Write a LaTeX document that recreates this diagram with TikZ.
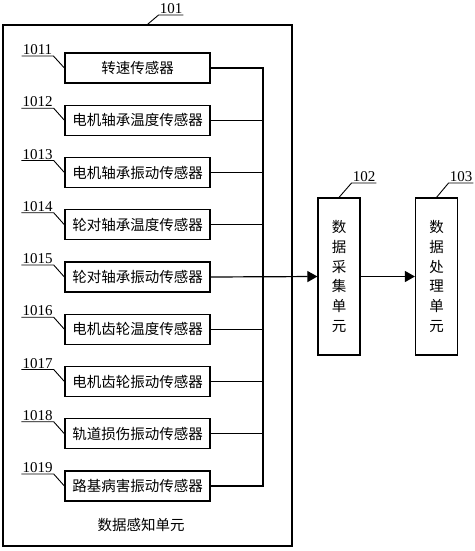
\documentclass[tikz,border=0pt]{standalone}
\usepackage{fontspec}
\setmainfont{Liberation Serif}
\newfontfamily\cjk{Noto Sans CJK SC}
\usetikzlibrary{arrows.meta}

\tikzset{
  sensor/.style={draw, line width=1.2pt, minimum width=145pt, minimum height=30pt,
    inner sep=0pt, font=\cjk\fontsize{14.5}{16}\selectfont},
  unitbox/.style={draw, line width=1.2pt, minimum width=42pt, minimum height=157pt,
    inner sep=0pt, align=center, font=\cjk\fontsize{14.5}{19.8}\selectfont},
  tag/.style={inner sep=1pt, anchor=south, font=\fontsize{15}{17}\selectfont},
  leader/.style={line width=0.9pt},
  wire/.style={line width=1.2pt},
}

\begin{document}
\begin{tikzpicture}[x=1pt,y=-1pt]
  \useasboundingbox (0,0) rectangle (474,551);
  % data sensing unit
  \node[draw, line width=1.2pt, minimum width=289pt, minimum height=521pt] (u101) at (147.5,285.5) {};
  \node[font=\cjk\fontsize{14.5}{16}\selectfont] (u101text) at (141,525) {数据感知单元};
  \draw
    (137.5,68) node[sensor] (s1){转速传感器}
    (137.5,120.25) node[sensor] (s2){电机轴承温度传感器}
    (137.5,172.5) node[sensor] (s3){电机轴承振动传感器}
    (137.5,224.75) node[sensor] (s4){轮对轴承温度传感器}
    (137.5,277) node[sensor] (s5){轮对轴承振动传感器}
    (137.5,329.25) node[sensor] (s6){电机齿轮温度传感器}
    (137.5,381.5) node[sensor] (s7){电机齿轮振动传感器}
    (137.5,433.75) node[sensor] (s8){轨道损伤振动传感器}
    (137.5,486) node[sensor] (s9){路基病害振动传感器};
  % acquisition and processing
  \node[unitbox] (u102) at (339,276.5) {数\\据\\采\\集\\单\\元};
  \node[unitbox] (u103) at (436.5,276.5) {数\\据\\处\\理\\单\\元};
  % reference numbers
  \draw
    (171,15) node[tag] (t101){101}
    (364,183) node[tag] (t102){102}
    (461,183) node[tag] (t103){103}
    (37.5,56) node[tag] (t1){1011}
    (37.5,108.25) node[tag] (t2){1012}
    (37.5,160.5) node[tag] (t3){1013}
    (37.5,212.75) node[tag] (t4){1014}
    (37.5,265) node[tag] (t5){1015}
    (37.5,317.25) node[tag] (t6){1016}
    (37.5,369.5) node[tag] (t7){1017}
    (37.5,421.75) node[tag] (t8){1018}
    (37.5,474) node[tag] (t9){1019};
  \begin{scope}[leader]
    \draw (t101.south east) -- (t101.south west) -- (u101.north);
    \draw (t102.south east) -- (t102.south west) -- (u102.north);
    \draw (t103.south east) -- (t103.south west) -- (u103.north);
    \draw (t1.south west) -- (t1.south east) -- (s1.west);
    \draw (t2.south west) -- (t2.south east) -- (s2.west);
    \draw (t3.south west) -- (t3.south east) -- (s3.west);
    \draw (t4.south west) -- (t4.south east) -- (s4.west);
    \draw (t5.south west) -- (t5.south east) -- (s5.west);
    \draw (t6.south west) -- (t6.south east) -- (s6.west);
    \draw (t7.south west) -- (t7.south east) -- (s7.west);
    \draw (t8.south west) -- (t8.south east) -- (s8.west);
    \draw (t9.south west) -- (t9.south east) -- (s9.west);
  \end{scope}
  % bus
  \coordinate (busbot) at (263,486);
  \begin{scope}[wire]
    \draw (s1.east) -| (busbot) -- (s9.east);
    \draw (s2.east) -- (s2.east -| busbot);
    \draw (s3.east) -- (s3.east -| busbot);
    \draw (s4.east) -- (s4.east -| busbot);
    \draw (s6.east) -- (s6.east -| busbot);
    \draw (s7.east) -- (s7.east -| busbot);
    \draw (s8.east) -- (s8.east -| busbot);
    \draw[-{Triangle[length=10pt,width=11pt]}] (s5.east) -- (u102.west);
    \draw[-{Triangle[length=10pt,width=11pt]}] (u102.east) -- (u103.west);
  \end{scope}
\end{tikzpicture}
\end{document}
